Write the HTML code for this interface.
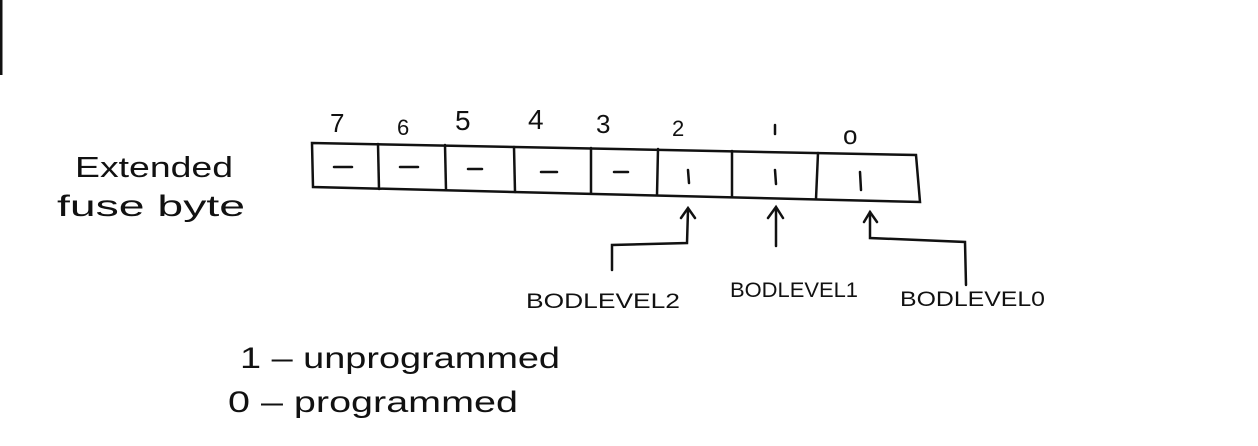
<!DOCTYPE html>
<html><head><meta charset="utf-8"><style>
html,body{margin:0;padding:0;background:#fff;width:1258px;height:446px;overflow:hidden}
svg text{font-family:"Liberation Sans",sans-serif;fill:#111}
</style></head><body>
<svg width="1258" height="446" viewBox="0 0 1258 446" xmlns="http://www.w3.org/2000/svg">
<rect x="0" y="0" width="2.5" height="75" fill="#111"/>
<g stroke="#111" stroke-width="2.5" fill="none" stroke-linecap="round">
<polygon points="312,143 916,155 920,202 313,187"/>
<line x1="378" y1="144" x2="379" y2="189"/>
<line x1="445" y1="145" x2="446" y2="190"/>
<line x1="514" y1="147" x2="515" y2="192"/>
<line x1="591" y1="148" x2="591" y2="193"/>
<line x1="658" y1="149" x2="657" y2="195"/>
<line x1="732" y1="151" x2="732" y2="197"/>
<line x1="818" y1="153" x2="816" y2="199"/>
<line x1="334" y1="167" x2="352" y2="167"/>
<line x1="400" y1="167" x2="418" y2="167"/>
<line x1="468" y1="169" x2="482" y2="169"/>
<line x1="541" y1="172" x2="557" y2="172"/>
<line x1="614" y1="172" x2="628" y2="172"/>
<line x1="688" y1="170" x2="689" y2="183"/>
<line x1="775" y1="170" x2="776" y2="184"/>
<line x1="860" y1="172" x2="861" y2="190"/>
<line x1="775" y1="125" x2="775" y2="134"/>
<polyline points="688,210 687,243 612,245 612,270"/>
<polyline points="681,218 688,208 695,218"/>
<line x1="776" y1="208" x2="776" y2="246"/>
<polyline points="768,218 776,207 783,218"/>
<polyline points="870,212 870,238 965,242 966,285"/>
<polyline points="864,222 870,212 877,222"/>
</g>
<g font-size="26">
<text x="330" y="132">7</text><text x="397" y="135" font-size="22">6</text>
<text x="455" y="130" font-size="28">5</text><text x="528" y="129" font-size="28">4</text>
<text x="596" y="133">3</text><text x="672" y="136" font-size="22">2</text>
<text x="843" y="144">o</text>
</g>
<text x="75" y="177" font-size="29" textLength="158" lengthAdjust="spacingAndGlyphs">Extended</text>
<text x="57" y="216" font-size="30" textLength="188" lengthAdjust="spacingAndGlyphs">fuse byte</text>
<text x="526" y="308" font-size="21" textLength="154" lengthAdjust="spacingAndGlyphs">BODLEVEL2</text>
<text x="730" y="297" font-size="21" textLength="128" lengthAdjust="spacingAndGlyphs">BODLEVEL1</text>
<text x="900" y="306" font-size="21" textLength="145" lengthAdjust="spacingAndGlyphs">BODLEVEL0</text>
<text x="240" y="368" font-size="30" textLength="320" lengthAdjust="spacingAndGlyphs">1 – unprogrammed</text>
<text x="228" y="412" font-size="30" textLength="290" lengthAdjust="spacingAndGlyphs">0 – programmed</text>
</svg>
</body></html>
